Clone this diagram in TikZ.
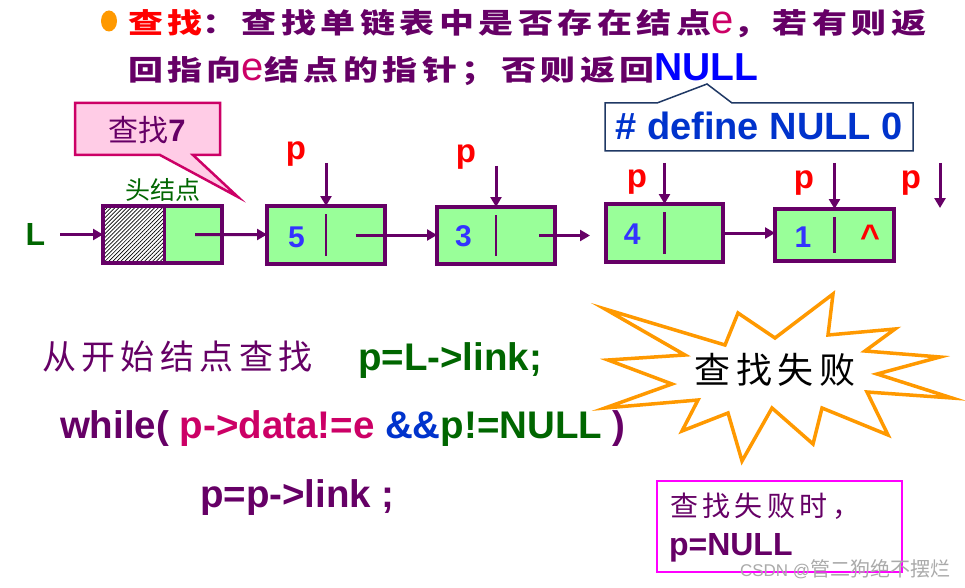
\documentclass[tikz,border=0pt]{standalone}
\usepackage{fontspec}
\setmainfont{Liberation Sans}
\setsansfont{Liberation Sans}
\newfontfamily\cjk{Noto Sans CJK SC}
\newfontfamily\cjkt[FakeStretch=1.25,LetterSpace=16]{Noto Sans CJK SC}
\newfontfamily\cjks[LetterSpace=16]{Noto Sans CJK SC}
\usetikzlibrary{arrows.meta,patterns.meta,calc,shapes.geometric}
\newcommand\fs[1]{\fontsize{#1}{#1}\selectfont}
\definecolor{pur}{RGB}{102,0,102}
\definecolor{crim}{RGB}{204,0,102}
\definecolor{grn}{RGB}{0,102,0}
\definecolor{cblue}{RGB}{0,51,204}
\definecolor{dblue}{RGB}{51,51,255}
\definecolor{nblue}{RGB}{0,0,255}
\definecolor{cellg}{RGB}{153,255,153}
\definecolor{orng}{RGB}{255,153,0}
\definecolor{pinkf}{RGB}{255,204,230}
\definecolor{pinkb}{RGB}{204,0,102}
\definecolor{mag}{RGB}{255,0,255}
\definecolor{navy}{RGB}{31,56,100}
\definecolor{wmgray}{RGB}{170,170,170}
\tikzset{
  cell/.style={draw=pur, line width=3.2pt, fill=cellg},
  lnk/.style={draw=pur, line width=3pt, -{Triangle[length=10pt,width=11pt]}},
  divd/.style={draw=pur, line width=2.8pt},
  dig/.style={font=\sffamily\bfseries\fs{30}, text=dblue},
  plab/.style={font=\sffamily\bfseries\fs{33}, text=red, anchor=base},
  code/.style={font=\sffamily\bfseries\fs{38.5}, anchor=base west},
}
\begin{document}
\begin{tikzpicture}[x=1pt,y=-1pt,inner sep=0pt,outer sep=0pt]
\useasboundingbox (0,0) rectangle (965,588);
\fill[white] (0,0) rectangle (965,588);

% title
\node[ellipse, fill=orng, minimum width=16pt, minimum height=21pt] (bul) at (109,21) {};
\node[anchor=base west] (t1) at (128,34) {\cjkt\bfseries\fs{28}\color{red}查找\color{pur}：查找单链表中是否存在结点{\sffamily\mdseries\fs{40}\color{crim}e}，若有则返};
\node[anchor=base west] (t2) at (128,81) {\cjkt\bfseries\fs{28}\color{pur}回指向{\sffamily\mdseries\fs{40}\color{crim}e}结点的指针；否则返回{\sffamily\bfseries\fs{39}\color{nblue}NULL}};

% define NULL callout
\draw[navy, line width=1.5pt, fill=white] (605,103) -- (657,103) -- (707,84) -- (732,103) -- (913,103) -- (913,151) -- (605,151) -- cycle;
\node[anchor=base, font=\sffamily\bfseries\fs{38}, text=cblue] (def) at (759,140) {\# define NULL 0};

% 查找7 callout
\draw[pinkb, fill=pinkf, line width=2.5pt, line join=miter] (75,103) -- (220,103) -- (220,155) -- (193,155) -- (238,197) -- (160,155) -- (75,155) -- cycle;
\node (q7) at (147,130) {\cjk\fs{30}\color{pur}查找{\sffamily\bfseries\fs{31}7}};

% head node
\node (hl) at (163,190) {\cjk\fs{25}\color{grn}头结点};
\node[cell, minimum width=119pt, minimum height=57pt] (head) at (162.5,234.5) {};
\fill[white] (head.north west) rectangle ($(head.south west)+(61.5,0)$);
\fill[pattern={Lines[angle=45,distance=2.8pt,line width=0.7pt]}] (head.north west) rectangle ($(head.south west)+(61.5,0)$);
\draw[pur, line width=3.2pt] (head.north west) rectangle (head.south east);
\draw[pur, line width=3.2pt] ($(head.north west)+(61.5,0)$) -- ($(head.south west)+(61.5,0)$);

% list nodes
\node[cell, minimum width=118pt, minimum height=58pt] (n5) at (326,235) {};
\node[cell, minimum width=118pt, minimum height=57pt] (n3) at (496,235.5) {};
\node[cell, minimum width=117pt, minimum height=58pt] (n4) at (664.5,233) {};
\node[cell, minimum width=119pt, minimum height=52pt] (n1) at (834.5,235) {};
\foreach \n in {n5,n3,n4,n1}{
  \draw[divd] ([yshift=-8pt]\n.north) -- ([yshift=8pt]\n.south);
}
\node[dig] (d5) at ($(n5.west)!0.5!(n5.center)+(0,2)$) {5};
\node[dig] (d3) at ($(n3.west)!0.45!(n3.center)+(0,1)$) {3};
\node[dig] (d4) at ($(n4.west)!0.45!(n4.center)+(0,1.5)$) {4};
\node[dig] (d1) at ($(n1.west)!0.47!(n1.center)+(0,2)$) {1};
\node[anchor=base, font=\sffamily\bfseries\fs{34}, text=red] (nil) at (870,248) {\textasciicircum};

% L
\node[font=\sffamily\bfseries\fs{32}, text=grn] (L) at (35.5,234.5) {L};

% links
\draw[lnk] ([xshift=15pt]L.east) -- (L.east -| head.west);
\draw[lnk] ($(head.center)!0.55!(head.east)$) -- (head.center -| n5.west);
\draw[lnk] ($(n5.center)!0.5!(n5.east)$) -- (n5.center -| n3.west);
\draw[lnk] ([xshift=-16pt]n3.east) -- ([xshift=-16pt]n3.east -| n4.west);
\draw[lnk] (n4.east) -- (n4.east -| n1.west);

% p pointers
\node[plab] (p5) at (296,160) {p};
\node[plab] (p3) at (466,163) {p};
\node[plab] (p4) at (637,187) {p};
\node[plab] (p1) at (804,188) {p};
\node[plab] (pe) at (911,188) {p};
\draw[lnk] ([yshift=43pt]n5.north) -- (n5.north);
\draw[lnk] ([yshift=41pt]n3.north) -- (n3.north);
\draw[lnk] ([yshift=41pt]n4.north) -- (n4.north);
\draw[lnk] ([yshift=46pt]n1.north) -- (n1.north);
\coordinate (etop) at (940,163);
\coordinate (ebot) at (940,208);
\draw[lnk] (etop) -- (ebot);

% code
\node[anchor=base west] (c1) at (42,369.5) {\cjks\fs{34}\color{pur}从开始结点查找};
\node[code, text=grn] (c2) at (358,370) {p=L->link;};
\node[code] (c3) at (60,438) {\color{pur}while( \color{crim}p->data!=e \color{cblue}\&\&\color{grn}p!=NULL \color{pur})};
\node[code, text=pur] (c4) at (200,507) {p=p->link ;};

% star
\draw[orng, line width=3.5pt, fill=white, line join=miter] (605,309) -- (725,345) -- (738,313) -- (775,338) -- (833,294) -- (828,335) -- (895,329) -- (865,351) -- (940,357) -- (877,374) -- (952,398) -- (867,392) -- (888,435) -- (822,408) -- (813,444) -- (772,408) -- (742,461) -- (728,413) -- (682,431) -- (698,400) -- (605,408) -- (672,384) -- (608,360) -- (685,355) -- cycle;
\node (fail) at (775,370) {\cjks\fs{36}查找失败};

% result box
\node[draw=mag, line width=2pt, minimum width=245pt, minimum height=91pt] (rbox) at (779.5,526.5) {};
\node[anchor=base west] (r1) at (670,516) {\cjks\fs{28}\color{pur}查找失败时，};
\node[anchor=base west, font=\sffamily\bfseries\fs{32}, text=pur] (r2) at (669,555) {p=NULL};

% watermark
\node[anchor=base west, text=wmgray] (wm) at (740,576) {{\sffamily\fs{17}CSDN @}{\cjk\fs{20}管二狗绝不摆烂}};
\end{tikzpicture}
\end{document}
